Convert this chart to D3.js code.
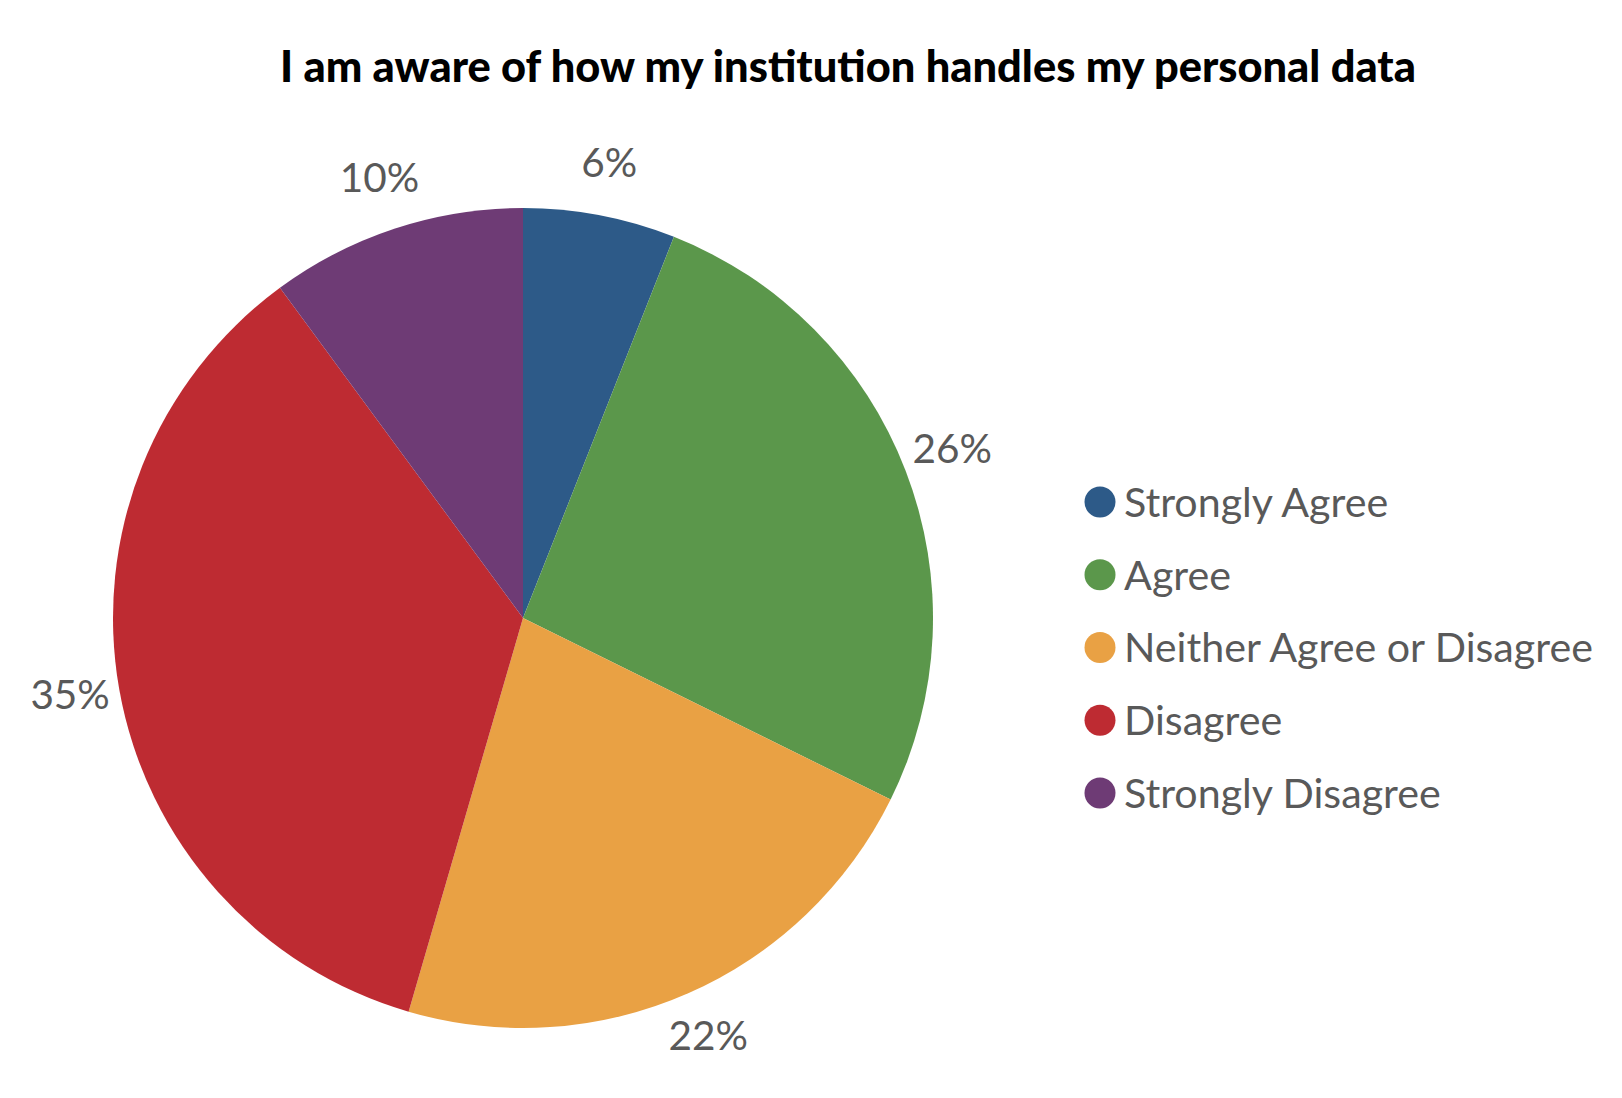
<!DOCTYPE html>
<html>
<head>
<meta charset="utf-8">
<script src="https://cdn.jsdelivr.net/npm/d3@7"></script>
<style>
  body { margin: 0; background: #fff; }
  svg { display: block; }
</style>
</head>
<body>
<svg id="canvas"></svg>
<script>
let categories = ['Strongly Agree', 'Agree', 'Neither Agree or Disagree', 'Disagree', 'Strongly Disagree'];
let values = [6.0, 26.3, 22.2, 35.4, 10.1];
let labels = ['6%', '26%', '22%', '35%', '10%'];
let colors = ['#2d5a88', '#5b974b', '#e9a144', '#be2b32', '#6e3b75'];

let width = 1622;
let height = 1098;
let cx = 523;
let cy = 618;
let radius = 410;
let labelRadius = 460;
let font = 'Lato, "Open Sans", sans-serif';

let svg = d3.select('#canvas')
svg.attr('width', width);
svg.attr('height', height);

let pie = d3.pie().sort(null).value((d) => d);
let arc = d3.arc().innerRadius(0).outerRadius(radius);
let labelArc = d3.arc().innerRadius(labelRadius).outerRadius(labelRadius);

let drawTitle = () => {
  svg.append('text')
     .attr('x', 848)
     .attr('y', 82)
     .attr('text-anchor', 'middle')
     .attr('font-family', font)
     .attr('font-weight', 900)
     .attr('font-size', 43.4)
     .attr('fill', '#000')
     .text('I am aware of how my institution handles my personal data');
}

let drawPie = () => {
  let g = svg.append('g').attr('transform', 'translate(' + cx + ',' + cy + ')');
  let arcs = pie(values);
  g.selectAll('path')
   .data(arcs)
   .enter()
   .append('path')
   .attr('d', arc)
   .attr('fill', (d, i) => colors[i]);

  g.selectAll('text')
   .data(arcs)
   .enter()
   .append('text')
   .attr('x', (d) => labelArc.centroid(d)[0])
   .attr('y', (d) => labelArc.centroid(d)[1])
   .attr('dy', '0.26em')
   .attr('text-anchor', 'middle')
   .attr('font-family', font)
   .attr('font-size', 40.5)
   .attr('fill', '#595959')
   .text((d, i) => labels[i]);
}

let drawLegend = () => {
  let y = d3.scalePoint().domain(categories).range([502, 793]);
  let items = svg.append('g').selectAll('g')
     .data(categories)
     .enter()
     .append('g')
     .attr('transform', (d) => 'translate(1100,' + y(d) + ')');
  items.append('circle')
       .attr('r', 15.5)
       .attr('fill', (d, i) => colors[i]);
  items.append('text')
       .attr('x', 24)
       .attr('dy', '0.36em')
       .attr('font-family', font)
       .attr('font-size', 41.2)
       .attr('fill', '#595959')
       .text((d) => d);
}

drawTitle();
drawPie();
drawLegend();
</script>
</body>
</html>
